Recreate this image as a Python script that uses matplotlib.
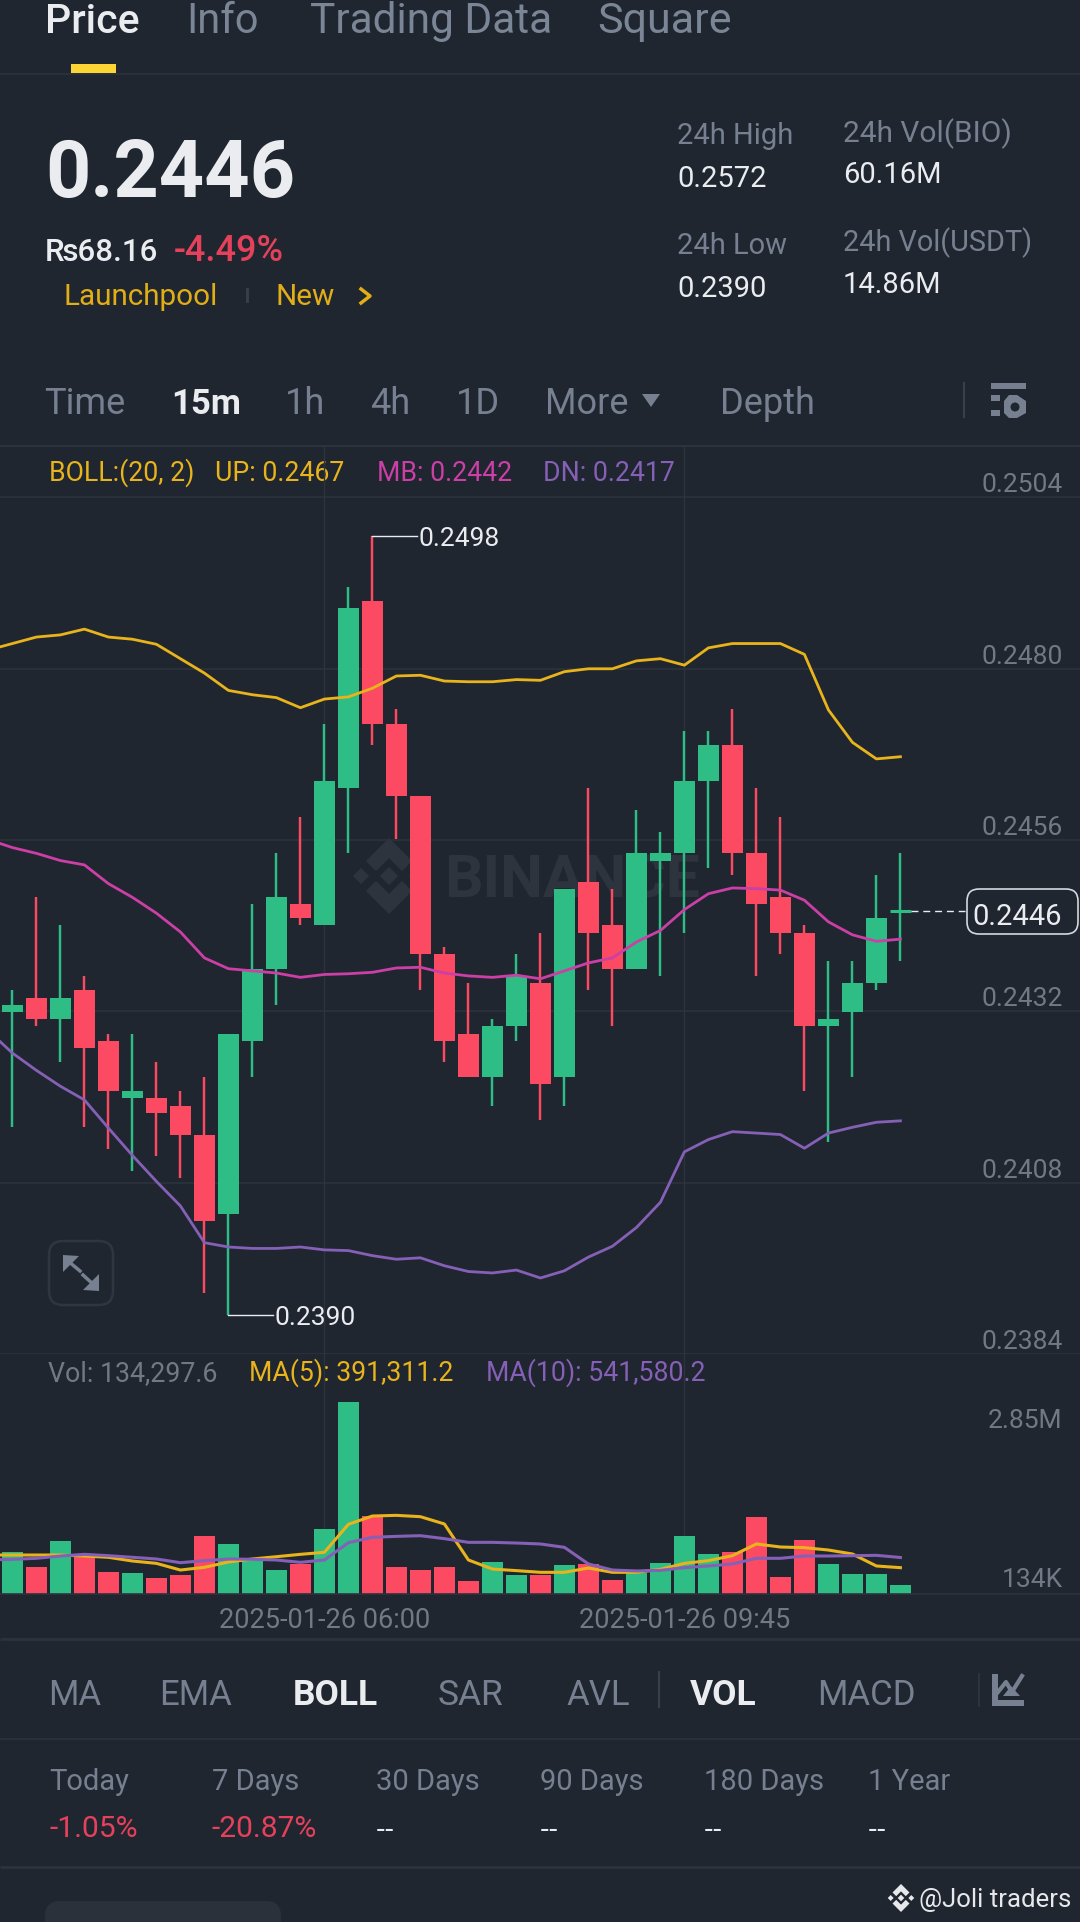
import matplotlib
matplotlib.use('Agg')
import matplotlib.pyplot as plt
import numpy as np
from matplotlib.patches import FancyBboxPatch, Polygon, Circle, Rectangle

plt.rcParams['font.family'] = ['Roboto', 'DejaVu Sans']

# candles, 15m, oldest first
opens = [0.2432, 0.2434, 0.2431, 0.2435, 0.2428, 0.2420, 0.2420, 0.2419, 0.2415, 0.2404,
         0.2428, 0.2438, 0.2447, 0.2444, 0.2463, 0.2489, 0.2472, 0.2462, 0.2440, 0.2429,
         0.2423, 0.2430, 0.2436, 0.2423, 0.2450, 0.2444, 0.2438, 0.2453, 0.2454, 0.2464,
         0.2469, 0.2454, 0.2448, 0.2443, 0.2430, 0.2432, 0.2436, 0.2446]
closes = [0.2433, 0.2431, 0.2434, 0.2427, 0.2421, 0.2421, 0.2418, 0.2415, 0.2403, 0.2429,
          0.2438, 0.2448, 0.2445, 0.2464, 0.2488, 0.2472, 0.2462, 0.2440, 0.2428, 0.2423,
          0.2430, 0.2437, 0.2422, 0.2449, 0.2443, 0.2438, 0.2454, 0.2454, 0.2464, 0.2469,
          0.2454, 0.2447, 0.2443, 0.2430, 0.2431, 0.2436, 0.2445, 0.2446]
highs = [0.2435, 0.2448, 0.2444, 0.2437, 0.2429, 0.2429, 0.2425, 0.2421, 0.2423, 0.2429,
         0.2447, 0.2454, 0.2459, 0.2472, 0.2491, 0.2498, 0.2474, 0.2462, 0.2441, 0.2436,
         0.2431, 0.2440, 0.2443, 0.2449, 0.2463, 0.2449, 0.2460, 0.2457, 0.2471, 0.2471,
         0.2474, 0.2463, 0.2459, 0.2444, 0.2439, 0.2439, 0.2451, 0.2454]
lows = [0.2416, 0.2430, 0.2425, 0.2416, 0.2413, 0.2410, 0.2412, 0.2409, 0.2393, 0.2390,
        0.2423, 0.2433, 0.2444, 0.2444, 0.2454, 0.2469, 0.2456, 0.2435, 0.2425, 0.2423,
        0.2419, 0.2428, 0.2417, 0.2419, 0.2435, 0.2430, 0.2438, 0.2437, 0.2443, 0.2452,
        0.2451, 0.2437, 0.2440, 0.2421, 0.2414, 0.2423, 0.2435, 0.2439]

# bollinger bands, first point is the candle before the visible window
boll_up = [0.24822, 0.24831, 0.24840, 0.24843, 0.24851, 0.24840, 0.24837, 0.24830, 0.24810, 0.24790,
           0.24766, 0.24760, 0.24756, 0.24742, 0.24754, 0.24757, 0.24769, 0.24786, 0.24787, 0.24779,
           0.24778, 0.24778, 0.24781, 0.24780, 0.24792, 0.24796, 0.24796, 0.24807, 0.24810, 0.24801,
           0.24825, 0.24831, 0.24831, 0.24831, 0.24816, 0.24739, 0.24694, 0.24671, 0.24674]
boll_mb = [0.24559, 0.24548, 0.24540, 0.24530, 0.24524, 0.24498, 0.24479, 0.24457, 0.24431, 0.24395,
           0.24380, 0.24377, 0.24374, 0.24368, 0.24372, 0.24373, 0.24375, 0.24381, 0.24382, 0.24374,
           0.24370, 0.24368, 0.24371, 0.24366, 0.24377, 0.24388, 0.24395, 0.24417, 0.24433, 0.24462,
           0.24484, 0.24492, 0.24491, 0.24489, 0.24475, 0.24445, 0.24427, 0.24418, 0.24421]
boll_dn = [0.24294, 0.24263, 0.24239, 0.24217, 0.24198, 0.24159, 0.24121, 0.24085, 0.24051, 0.24000,
           0.23994, 0.23992, 0.23992, 0.23994, 0.23990, 0.23989, 0.23982, 0.23977, 0.23979, 0.23968,
           0.23960, 0.23958, 0.23962, 0.23951, 0.23961, 0.23980, 0.23995, 0.24021, 0.24056, 0.24126,
           0.24143, 0.24154, 0.24152, 0.24150, 0.24131, 0.24152, 0.24160, 0.24167, 0.24169]

# volume in thousands
volumes = [629, 401, 787, 594, 322, 317, 243, 277, 856, 747,
           530, 356, 441, 970, 2851, 1158, 401, 356, 401, 193,
           475, 277, 277, 431, 450, 208, 307, 455, 861, 594,
           629, 1148, 248, 802, 441, 292, 297, 134.3]
vol_ma5 = [579, 579, 579, 579, 564, 545, 490, 455, 356, 396,
           475, 520, 554, 589, 619, 1035, 1158, 1168, 1148, 1040,
           505, 371, 347, 322, 322, 386, 322, 322, 366, 455,
           495, 569, 743, 698, 688, 653, 594, 416, 391]
vol_ma10 = [505, 515, 530, 564, 589, 569, 545, 520, 465, 495,
            520, 515, 505, 470, 505, 762, 842, 856, 866, 822,
            767, 767, 757, 743, 693, 446, 356, 342, 351, 391,
            416, 446, 530, 530, 564, 564, 569, 574, 542]

# grid lines sit on unrounded prices, the labels are rounded
price_ticks = [0.250338, 0.247961, 0.245589, 0.243213, 0.240832, 0.238460]
price_labels = ['0.2504', '0.2480', '0.2456', '0.2432', '0.2408', '0.2384']
date_ticks = [13, 28]
date_labels = ['2025-01-26 06:00', '2025-01-26 09:45']

BG = '#1F2630'
GRID = '#2D333D'
GREEN = '#2EBD85'
RED = '#FB4A62'
YELLOW = '#E9B41B'
PINK = '#CB3FA6'
PURPLE = '#8560B6'
GRAY = '#768090'
TICK = '#717985'
WHITE = '#EAECEF'

W, H = 1080, 1922
fig = plt.figure(figsize=(W / 100, H / 100), dpi=100, facecolor=BG)

# whole page in pixels, for the app chrome
ui = fig.add_axes([0, 0, 1, 1], zorder=0)
ui.set_xlim(0, W)
ui.set_ylim(H, 0)
ui.axis('off')


def txt(x, y, s, size=20, color=GRAY, weight='normal', ha='left', **kw):
    ui.text(x, y, s, fontsize=size, color=color, fontweight=weight, ha=ha, va='baseline', **kw)


def hline(y, lw=1.2, color=GRID):
    ui.plot([0, W], [y, y], color=color, lw=lw, solid_capstyle='butt')


def binance_logo(cx, cy, r, color):
    # r is half of the full height
    s = r / 38
    top = [(0, -38), (23, -15), (13, -5), (0, -18), (-13, -5), (-23, -15)]
    bot = [(x, -y) for x, y in top]
    mid = [(0, -9), (9, 0), (0, 9), (-9, 0)]
    left = [(-28, -8), (-20, 0), (-28, 8), (-36, 0)]
    right = [(28, -8), (36, 0), (28, 8), (20, 0)]
    for pts in (top, bot, mid, left, right):
        ui.add_patch(Polygon([(cx + x * s, cy + y * s) for x, y in pts], closed=True, fc=color, ec='none'))


# top tabs
txt(45, 33, 'Price', 29.5, WHITE, 'medium')
txt(186, 33, 'Info', 30, '#7A8596')
txt(310, 33, 'Trading Data', 30.5, '#7A8596')
txt(597, 33, 'Square', 31, '#7A8596')
ui.add_patch(Rectangle((71, 64), 45, 9, fc='#FCD535', ec='none'))
hline(74)

# price block
txt(45, 197, '0.2446', 57, WHITE, 'bold')
txt(45, 261, '₨68.16', 22.5, WHITE, 'medium')
txt(174, 261, '-4.49%', 26, '#E5415B', 'medium')
txt(63, 305, 'Launchpool', 21.3, '#E1AE17')
ui.plot([247, 247], [289, 301], color='#39404A', lw=2)
txt(276, 305, 'New', 21.3, '#E1AE17')
ui.plot([361, 370, 361], [289, 296, 303], color='#E1AE17', lw=2.5)

txt(677, 144, '24h High', 21, GRAY)
txt(677, 187, '0.2572', 21, WHITE)
txt(677, 254, '24h Low', 21, GRAY)
txt(677, 297, '0.2390', 21, WHITE)
txt(843, 142, '24h Vol(BIO)', 21.5, GRAY)
txt(843, 183, '60.16M', 21, WHITE)
txt(843, 251, '24h Vol(USDT)', 20.8, GRAY)
txt(843, 293, '14.86M', 21, WHITE)

# interval row
txt(44, 414, 'Time', 26, GRAY)
txt(171, 414, '15m', 25, WHITE, 'bold')
txt(285, 414, '1h', 26, GRAY)
txt(370, 414, '4h', 26, GRAY)
txt(456, 414, '1D', 26, GRAY)
txt(545, 414, 'More', 26, GRAY)
ui.add_patch(Polygon([(642, 394), (660, 394), (651, 407)], closed=True, fc=GRAY, ec='none'))
txt(720, 414, 'Depth', 26, GRAY)
ui.plot([964, 964], [383, 417], color='#39404A', lw=1.5)
ui.add_patch(Rectangle((991, 383), 35, 6, fc=GRAY, ec='none'))
ui.add_patch(Rectangle((991, 395), 9, 6, fc=GRAY, ec='none'))
ui.add_patch(Rectangle((991, 410), 9, 6, fc=GRAY, ec='none'))
ui.add_patch(Polygon([(1009, 395), (1017, 395), (1026, 401), (1026, 413), (1017, 418), (1009, 418),
                      (1004, 413), (1004, 401)], closed=True, fc=GRAY, ec='none'))
ui.add_patch(Circle((1015, 407), 4.5, fc=BG, ec='none'))
hline(446, 1.5)

# chart legends
txt(49, 481, 'BOLL:(20, 2)', 19.2, YELLOW)
txt(215, 481, 'UP: 0.2467', 19.2, YELLOW)
txt(377, 481, 'MB: 0.2442', 19.2, PINK)
txt(543, 481, 'DN: 0.2417', 19.2, PURPLE)
txt(48, 1381, 'Vol: 134,297.6', 19.3, TICK)
txt(249, 1381, 'MA(5): 391,311.2', 19.2, YELLOW)
txt(486, 1381, 'MA(10): 541,580.2', 19.2, PURPLE)
txt(1062, 1428, '2.85M', 19, TICK, ha='right')
txt(1063, 1587, '134K', 19, TICK, ha='right')

# watermark under the candles
binance_logo(389, 876, 38, '#2E343E')
txt(444, 897, 'BINANCE', 43.5, '#2E343E', 'bold')

# expand button
ui.add_patch(FancyBboxPatch((57, 1249), 48, 48, boxstyle='round,pad=8,rounding_size=14', fc='none', ec='#30363F', lw=1.8))
ui.add_patch(Polygon([(63, 1255), (79, 1256), (63, 1272)], closed=True, fc=GRAY, ec='none'))
ui.add_patch(Polygon([(99, 1291), (83, 1290), (99, 1274)], closed=True, fc=GRAY, ec='none'))
ui.plot([68, 80], [1261, 1271], color=GRAY, lw=2.5)
ui.plot([94, 83], [1285, 1275], color=GRAY, lw=2.5)

# current price tag
ui.add_patch(FancyBboxPatch((975, 897), 95, 29, boxstyle='round,pad=8,rounding_size=12', fc=BG, ec='#D5D8DD', lw=1.2, zorder=5))
txt(1062, 925, '0.2446', 21, WHITE, ha='right', zorder=6)

# bottom indicator row
hline(1639, 2)
txt(48, 1705, 'MA', 25, GRAY)
txt(159, 1705, 'EMA', 25, GRAY)
txt(293, 1705, 'BOLL', 25.5, WHITE, 'bold')
txt(438, 1705, 'SAR', 25.5, GRAY)
txt(566, 1705, 'AVL', 25, GRAY)
ui.plot([659, 659], [1672, 1707], color='#39404A', lw=1.5)
txt(690, 1705, 'VOL', 25.5, WHITE, 'bold')
txt(817, 1705, 'MACD', 25, GRAY)
ui.plot([979, 979], [1674, 1706], color='#2D333D', lw=1.5)
ui.add_patch(Rectangle((992, 1674), 6, 32, fc=GRAY, ec='none'))
ui.add_patch(Rectangle((992, 1700), 32, 6, fc=GRAY, ec='none'))
ui.plot([998, 1006, 1012, 1022], [1692, 1682, 1692, 1676], color=GRAY, lw=3)
ui.add_patch(Polygon([(1003, 1696), (1020, 1696), (1011, 1686)], closed=True, fc=GRAY, ec='none'))
hline(1739)

# performance row
perf_names = ['Today', '7 Days', '30 Days', '90 Days', '180 Days', '1 Year']
perf_values = ['-1.05%', '-20.87%', '--', '--', '--', '--']
perf_x = [49, 212, 376, 540, 704, 868]
for x, name, val in zip(perf_x, perf_names, perf_values):
    txt(x, 1790, name, 21, GRAY)
    if val == '--':
        txt(x, 1837, val, 19, WHITE, family='DejaVu Sans')
    else:
        txt(x, 1837, val, 21.6, '#E5415B')
hline(1867, 2)
ui.add_patch(FancyBboxPatch((60, 1916), 206, 40, boxstyle='round,pad=15,rounding_size=15', fc='#2B313B', ec='none'))
binance_logo(901, 1898, 14, '#E6E8EB')
txt(919, 1907, '@Joli traders', 18.5, '#E6E8EB')

# x axis in candle units: first candle centre at 12.4 px, 24 px per candle
xlim = (-12.4 / 24, (W - 12.4) / 24)
idx = np.arange(len(opens))
idx_lines = np.arange(-1, len(opens))

# price pane
top_px, bot_px = 446, 1353.7
ax = fig.add_axes([0, 1 - bot_px / H, 1, (bot_px - top_px) / H], zorder=1)
ax.patch.set_alpha(0)
ax.set_xlim(xlim)
ax.set_ylim(0.238460, 0.251050)
for s in ax.spines.values():
    s.set_visible(False)
ax.set_xticks([])
ax.set_yticks(price_ticks)
ax.set_yticklabels(price_labels, fontsize=19, color=TICK)
ax.yaxis.tick_right()
ax.tick_params(axis='y', length=0, pad=-12.5)
for lab in ax.get_yticklabels():
    lab.set_ha('right')
    lab.set_va('bottom')
ax.grid(axis='y', color=GRID, lw=1.2, zorder=0)
for d in date_ticks:
    ax.axvline(d, color=GRID, lw=1.0, zorder=0)

colors = [GREEN if c >= o else RED for o, c in zip(opens, closes)]
ax.vlines(idx, lows, highs, colors=colors, lw=1.75, zorder=2)
ax.bar(idx, np.array(closes) - np.array(opens), bottom=opens, width=0.875, color=colors, zorder=3)
ax.hlines(closes[-1], idx[-1] - 0.44, idx[-1] + 0.44, color=colors[-1], lw=2.2, zorder=3)

ax.plot(idx_lines, boll_up, color=YELLOW, lw=2.0, zorder=4)
ax.plot(idx_lines, boll_mb, color=PINK, lw=2.0, zorder=4)
ax.plot(idx_lines, boll_dn, color=PURPLE, lw=2.0, zorder=4)

# high and low markers
i_hi = int(np.argmax(highs))
i_lo = int(np.argmin(lows))
for i, val in ((i_hi, highs[i_hi]), (i_lo, lows[i_lo])):
    ax.plot([i, i + 1.85], [val, val], color=WHITE, lw=1.0, zorder=5)
    ax.annotate('%.4f' % val, xy=(i + 1.9, val), xytext=(0, -7.4), textcoords='offset points',
                fontsize=19, color=WHITE, va='baseline', zorder=5)

# last price leader
ax.plot([idx[-1] + 0.45, idx[-1] + 2.7], [closes[-1]] * 2, color=WHITE, lw=1.0, ls=(0, (5, 3.5)), zorder=5)

# volume pane
vol_bot = 1594
axv = fig.add_axes([0, 1 - vol_bot / H, 1, (vol_bot - bot_px) / H], zorder=1)
axv.patch.set_alpha(0)
axv.set_xlim(xlim)
axv.set_ylim(0, (vol_bot - bot_px) * 3 * 4.95)
for name, s in axv.spines.items():
    s.set_visible(name == 'bottom')
axv.spines['bottom'].set_color(GRID)
axv.spines['bottom'].set_linewidth(1.2)
axv.set_yticks([])
axv.set_xticks(date_ticks)
axv.set_xticklabels(date_labels, fontsize=19.5, color=TICK)
axv.tick_params(axis='x', length=0, pad=9)
for d in date_ticks:
    axv.axvline(d, color=GRID, lw=1.0, zorder=0)
axv.bar(idx, volumes, width=0.875, color=colors, zorder=2)
axv.plot(idx_lines, vol_ma5, color=YELLOW, lw=2.2, zorder=3)
axv.plot(idx_lines, vol_ma10, color=PURPLE, lw=2.2, zorder=4)

fig.savefig('out.png', dpi=100, facecolor=BG)
